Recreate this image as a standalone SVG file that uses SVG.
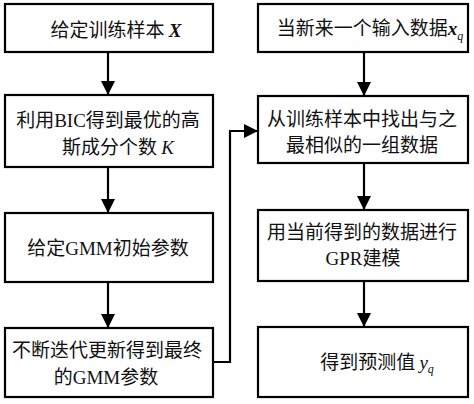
<svg xmlns="http://www.w3.org/2000/svg" width="474" height="404" viewBox="0 0 474 404">
<style>
.box{fill:#fff;stroke:#000;stroke-width:2.2}
.t{font-family:"Noto Sans CJK SC","Liberation Serif",serif;font-size:19px;fill:#111;text-anchor:middle}
.l{font-family:"Liberation Serif",serif}
.c{fill:none;stroke:#000;stroke-width:2.2}
</style>
<defs>
<marker id="ah" markerUnits="userSpaceOnUse" markerWidth="14" markerHeight="14" viewBox="0 0 14 14" refX="14" refY="7" orient="auto">
<path d="M0,0 L14,7 L0,14 Z" fill="#000"/>
</marker>
</defs>
<rect width="474" height="404" fill="#fff"/>
<g id="connectors">
<line class="c" x1="108" y1="52" x2="108" y2="95" marker-end="url(#ah)"/>
<line class="c" x1="108" y1="167" x2="108" y2="213" marker-end="url(#ah)"/>
<line class="c" x1="108" y1="282" x2="108" y2="328" marker-end="url(#ah)"/>
<line class="c" x1="364" y1="52" x2="364" y2="96" marker-end="url(#ah)"/>
<line class="c" x1="364" y1="163" x2="364" y2="210" marker-end="url(#ah)"/>
<line class="c" x1="364" y1="281" x2="364" y2="327" marker-end="url(#ah)"/>
<polyline class="c" points="213,362 230,362 230,131 258,131" marker-end="url(#ah)"/>
</g>
<g id="n1"><rect class="box" x="5" y="4" width="208" height="48"/>
<text class="t" x="116" y="37">给定训练样本 <tspan class="l" font-weight="bold" font-style="italic">X</tspan></text></g>
<g id="n2"><rect class="box" x="5" y="95" width="208" height="72"/>
<text class="t" x="108" y="127">利用<tspan class="l">BIC</tspan>得到最优的高</text>
<text class="t" x="118" y="154">斯成分个数 <tspan class="l" font-style="italic">K</tspan></text></g>
<g id="n3"><rect class="box" x="5" y="213" width="208" height="69"/>
<text class="t" x="108" y="255">给定<tspan class="l">GMM</tspan>初始参数</text></g>
<g id="n4"><rect class="box" x="5" y="328" width="208" height="69"/>
<text class="t" x="107" y="357">不断迭代更新得到最终</text>
<text class="t" x="106" y="384">的<tspan class="l">GMM</tspan>参数</text></g>
<g id="n5"><rect class="box" x="258" y="4" width="210" height="48"/>
<text class="t" x="370" y="35">当新来一个输入数据<tspan class="l" font-weight="bold" font-style="italic">x</tspan><tspan class="l" font-style="italic" font-size="12" dy="5">q</tspan></text></g>
<g id="n6"><rect class="box" x="258" y="96" width="210" height="67"/>
<text class="t" x="362" y="126">从训练样本中找出与之</text>
<text class="t" x="362" y="152">最相似的一组数据</text></g>
<g id="n7"><rect class="box" x="258" y="210" width="210" height="71"/>
<text class="t" x="362" y="239">用当前得到的数据进行</text>
<text class="t" x="363" y="265"><tspan class="l">GPR</tspan>建模</text></g>
<g id="n8"><rect class="box" x="258" y="327" width="210" height="70"/>
<text class="t" x="377" y="369">得到预测值 <tspan class="l" font-style="italic">y</tspan><tspan class="l" font-style="italic" font-size="12" dy="4">q</tspan></text></g>
</svg>
